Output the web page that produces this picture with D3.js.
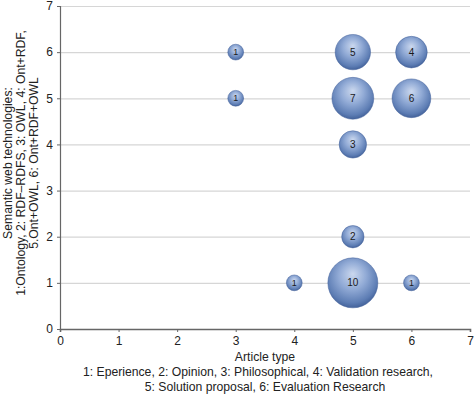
<!DOCTYPE html>
<html>
<head>
<meta charset="utf-8">
<script src="https://d3js.org/d3.v7.min.js"></script>
<style>
  body { margin: 0; background: #fff; }
  svg { display: block; font-family: "Liberation Sans", Arial, sans-serif; }
</style>
</head>
<body>
<div id="chart"></div>
<script>
// 气泡图：文章类型 vs 语义网技术

const articleType = [3, 5, 6, 3, 5, 6, 5, 5, 4, 5, 6];
const technology  = [6, 6, 6, 5, 5, 5, 4, 2, 1, 1, 1];
const counts      = [1, 5, 4, 1, 7, 6, 3, 2, 1, 10, 1];
const xTicks = [0, 1, 2, 3, 4, 5, 6, 7];
const yTicks = [0, 1, 2, 3, 4, 5, 6, 7];
const xTitle = ['Article type',
    '1: Eperience, 2: Opinion, 3: Philosophical, 4: Validation research,',
    '5: Solution proposal, 6: Evaluation Research'];
const yTitle = ['Semantic web technologies:',
    '1:Ontology, 2: RDF\u2013RDFS, 3: OWL, 4: Ont+RDF,',
    '5.Ont+OWL, 6: Ont+RDF+OWL'];

function draw() {
    const width = 474;
    const height = 394;
    const margin = { top: 6, right: 4, bottom: 65, left: 60 };
    const innerWidth = width - margin.left - margin.right;
    const innerHeight = height - margin.top - margin.bottom;

    const svg = d3.select('#chart')
        .append('svg')
        .attr('width', width)
        .attr('height', height);

    // 球形渐变
    const grad = svg.append('defs')
        .append('radialGradient')
        .attr('id', 'ball')
        .attr('cx', '48%').attr('cy', '40%').attr('r', '60%')
        .attr('fx', '50%').attr('fy', '32%');
    grad.append('stop').attr('offset', '0%').attr('stop-color', '#cbd8ee');
    grad.append('stop').attr('offset', '45%').attr('stop-color', '#92abd6');
    grad.append('stop').attr('offset', '85%').attr('stop-color', '#5d7db4');
    grad.append('stop').attr('offset', '100%').attr('stop-color', '#43629a');

    const g = svg.append('g')
        .attr('transform', `translate(${margin.left},${margin.top})`);

    const x = d3.scaleLinear().domain([0, 7]).range([0, innerWidth]);
    const y = d3.scaleLinear().domain([0, 7]).range([innerHeight, 0]);
    const r = d3.scaleSqrt().domain([0, 10]).range([0, 25]);

    // 网格线
    g.append('g')
        .attr('class', 'grid')
        .call(d3.axisLeft(y).tickValues(yTicks.slice(1)).tickSize(-innerWidth).tickFormat(''))
        .call(s => s.select('.domain').remove())
        .call(s => s.selectAll('line').attr('stroke', '#d6d6d6').attr('stroke-width', 1.2));

    // 坐标轴
    const xAxis = g.append('g')
        .attr('transform', `translate(0,${innerHeight})`)
        .call(d3.axisBottom(x).tickValues(xTicks).tickSize(3).tickPadding(4).tickFormat(d3.format('d')));
    xAxis.select('.domain').attr('stroke', '#666').attr('stroke-width', 1.6);

    const yAxis = g.append('g')
        .call(d3.axisLeft(y).tickValues(yTicks).tickSize(3).tickPadding(4).tickFormat(d3.format('d')));
    yAxis.select('.domain').attr('stroke', '#666').attr('stroke-width', 1.2);

    [xAxis, yAxis].forEach(a => {
        a.selectAll('.tick line').attr('stroke', '#666');
        a.selectAll('.tick text')
            .style('font-size', '12px')
            .style('fill', '#222');
    });

    // 气泡
    const data = counts.map((c, i) => ({ x: articleType[i], y: technology[i], n: c }));
    data.sort((a, b) => b.n - a.n);

    const bubbles = g.selectAll('.bubble')
        .data(data)
        .enter()
        .append('g')
        .attr('class', 'bubble')
        .attr('transform', d => `translate(${x(d.x)},${y(d.y)})`);

    bubbles.append('circle')
        .attr('r', d => r(d.n))
        .attr('fill', 'url(#ball)')
        .attr('stroke', '#42609a')
        .attr('stroke-width', 0.5);

    bubbles.append('text')
        .attr('text-anchor', 'middle')
        .attr('dy', '0.35em')
        .style('font-size', d => d.n === 1 ? '9px' : '10px')
        .style('fill', '#1a1a1a')
        .text(d => d.n);

    // 轴标题
    svg.append('text')
        .attr('text-anchor', 'middle')
        .style('font-size', '12.2px')
        .style('fill', '#222')
        .selectAll('tspan')
        .data(xTitle)
        .enter()
        .append('tspan')
        .attr('x', (d, i) => i === 1 ? 258 : 265)
        .attr('y', (d, i) => 361 + i * 15)
        .text(d => d);

    svg.append('text')
        .attr('transform', 'translate(0,163) rotate(-90)')
        .attr('text-anchor', 'middle')
        .style('font-size', '12.2px')
        .style('fill', '#222')
        .selectAll('tspan')
        .data(yTitle)
        .enter()
        .append('tspan')
        .attr('x', 0)
        .attr('y', (d, i) => 12 + i * 13)
        .text(d => d);
}

document.addEventListener('DOMContentLoaded', draw);
</script>
</body>
</html>
